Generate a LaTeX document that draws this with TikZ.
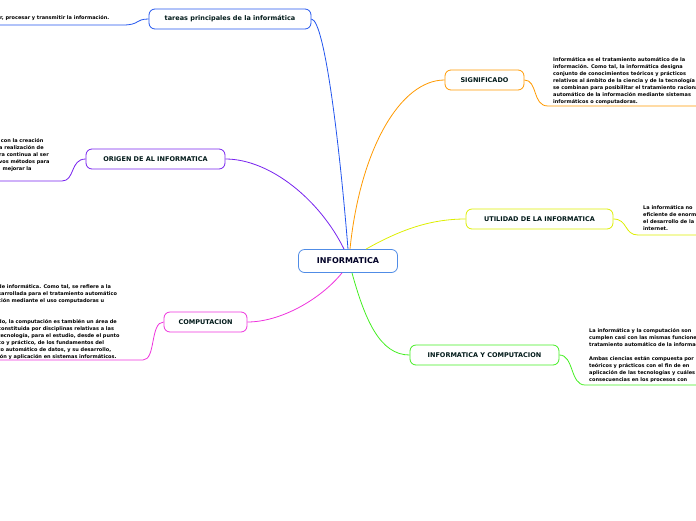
\documentclass[tikz,border=0pt]{standalone}
\usepackage{fontspec}
\setmainfont{DejaVu Sans}
\definecolor{cB}{RGB}{34,85,238}
\definecolor{cO}{RGB}{255,153,0}
\definecolor{cY}{RGB}{221,238,0}
\definecolor{cG}{RGB}{68,238,34}
\definecolor{cM}{RGB}{238,51,221}
\definecolor{cP}{RGB}{119,34,238}
\definecolor{cC}{RGB}{80,140,230}
\begin{document}
\begin{tikzpicture}[x=1pt,y=-1pt,
 box/.style={draw=#1,rounded corners=6pt,line width=0.8pt,fill=white,minimum height=20pt,font=\bfseries\fontsize{6.5}{7}\selectfont,text=black!80!teal,inner xsep=8pt},
 txt/.style={font=\bfseries\fontsize{5}{7}\selectfont,align=left,inner sep=0pt,anchor=north west},
 con/.style={draw=#1,line width=0.8pt}]
\useasboundingbox (0,0) rectangle (696,520);
\clip (0,0) rectangle (696,520);
\node[box=cC,minimum width=99pt,minimum height=23pt,font=\bfseries\fontsize{8}{9}\selectfont,text=black!85!blue] (c) at (348,261) {INFORMATICA};
\node[box=cB,minimum width=162pt] (t) at (230,19) {tareas principales de la informática};
\node[box=cO,minimum width=79pt] (s) at (484.5,80) {SIGNIFICADO};
\node[box=cY,minimum width=147pt] (u) at (539.5,219) {UTILIDAD DE LA INFORMATICA};
\node[box=cG,minimum width=149pt] (ic) at (484.5,355) {INFORMATICA Y COMPUTACION};
\node[box=cM,minimum width=83pt] (cp) at (205.5,322) {COMPUTACION};
\node[box=cP,minimum width=139pt] (o) at (155.5,159) {ORIGEN DE AL INFORMATICA};
% texts
\node[txt] (tt) at (0,15) {r, procesar y transmitir la información.};
\node[txt] (st) at (553,57) {Informática es el tratamiento automático de la\\información. Como tal, la informática designa\\conjunto de conocimientos teóricos y prácticos\\relativos al ámbito de la ciencia y de la tecnología\\se combinan para posibilitar el tratamiento racional\\automático de la información mediante sistemas\\informáticos o computadoras.};
\node[txt] (ut) at (643,205) {La informática no\\eficiente de enorme\\el desarrollo de la\\internet.};
\node[txt] (ict) at (589,328) {La informática y la computación son\\cumplen casi con las mismas funciones\\tratamiento automático de la información\\\\Ambas ciencias están compuesta por\\teóricos y prácticos con el fin de en\\aplicación de las tecnologías y cuáles\\consecuencias en los procesos con};
\node[txt] (cpt) at (-2,284) {de informática. Como tal, se refiere a la\\sarrollada para el tratamiento automático\\ción mediante el uso computadoras u\\.\\\\do, la computación es también un área de\\ constituida por disciplinas relativas a las\\tecnología, para el estudio, desde el punto\\co y práctico, de los fundamentos del\\to automático de datos, y su desarrollo,\\ión y aplicación en sistemas informáticos.};
\node[txt] (ot) at (-1,138) {\ con la creación\\a realización de\\ra continua al ser\\vos métodos para\\\ \ mejorar la};
% underlines
\coordinate (t1) at (0,25); \coordinate (t2) at (123,25);
\coordinate (s1) at (548,106); \coordinate (s2) at (696,106);
\coordinate (u1) at (638,235); \coordinate (u2) at (696,235);
\coordinate (i1) at (585,385); \coordinate (i2) at (696,385);
\coordinate (c1) at (0,360); \coordinate (c2) at (143,360);
\coordinate (o1) at (0,181); \coordinate (o2) at (62,181);
\draw[con=cB] (t1)--(t2) .. controls (140,25) and (135,19) .. (t.west);
\draw[con=cO] (s.east) .. controls (538,80) and (532,106) .. (s1) -- (s2);
\draw[con=cY] (u.east) .. controls (628,219) and (624,235) .. (u1) -- (u2);
\draw[con=cG] (ic.east) .. controls (574,355) and (570,385) .. (i1) -- (i2);
\draw[con=cM] (c1)--(c2) .. controls (156,360) and (150,322) .. (cp.west);
\draw[con=cP] (o1)--(o2) .. controls (75,181) and (70,159) .. (o.west);
% main connectors
\draw[con=cB] (c.north) .. controls (340,150) and (325,20) .. (t.east);
\draw[con=cO] ([xshift=2pt]c.north) .. controls (360,150) and (400,80) .. (s.west);
\draw[con=cY] ([xshift=18pt]c.north) .. controls (400,230) and (430,219) .. (u.west);
\draw[con=cG] ([xshift=4pt]c.south) .. controls (365,320) and (380,355) .. (ic.west);
\draw[con=cM] ([xshift=-6pt]c.south) .. controls (320,300) and (280,322) .. (cp.east);
\draw[con=cP] ([xshift=-4pt]c.north) .. controls (320,200) and (270,159) .. (o.east);
\end{tikzpicture}
\end{document}
